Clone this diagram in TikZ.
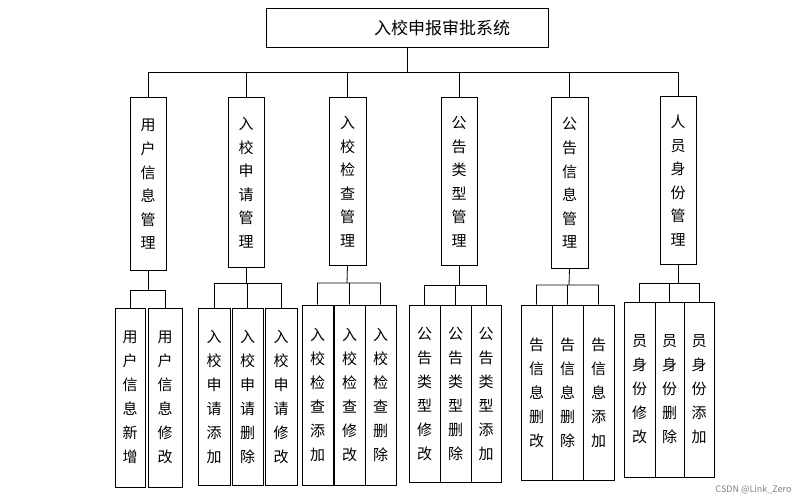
\documentclass[tikz,border=0pt]{standalone}
\usepackage{fontspec}
\newfontfamily\cjk{Noto Sans CJK SC}
\begin{document}
\begin{tikzpicture}[x=1pt,y=-1pt,
  bx/.style={draw,line width=0.8pt,inner sep=0pt,align=center,font=\cjk\fontsize{15}{23.6}\selectfont},
  lf/.style={bx,font=\cjk\fontsize{15}{24}\selectfont},
  ln/.style={line width=0.8pt}]
\useasboundingbox (0,0) rectangle (799,501);
\newcommand\bxat[7]{\node[#1,minimum width={(#4-#3)*1pt},minimum height={(#6-#5)*1pt}] (#2) at ({(#3+#4)/2},{(#5+#6)/2}) {#7};}
\node[draw,line width=0.8pt,minimum width=282pt,minimum height=39pt,font=\cjk\fontsize{17}{18}\selectfont] (top) at (407,27.5) {\hspace{70pt}入校申报审批系统};
\bxat{bx}{a}{130}{166}{97}{270}{\\[-10pt]用\\户\\信\\息\\管\\理}
\bxat{bx}{b}{228}{264}{97}{267}{\\[-10pt]入\\校\\申\\请\\管\\理}
\bxat{bx}{c}{329}{366}{97}{265}{\\[-10pt]入\\校\\检\\查\\管\\理}
\bxat{bx}{d}{441}{477}{97}{265}{\\[-10pt]公\\告\\类\\型\\管\\理}
\bxat{bx}{e}{551}{588}{97}{268}{\\[-10pt]公\\告\\信\\息\\管\\理}
\bxat{bx}{f}{660}{696}{96}{264}{\\[-10pt]人\\员\\身\\份\\管\\理}
\coordinate (bus) at (407,72);
\draw[ln] (top.south)--(bus);
\foreach \n in {a,b,c,d,e,f} \draw[ln] (\n.north) |- (bus);
% leaves
\bxat{lf}{a1}{115}{145}{308}{487}{用\\户\\信\\息\\新\\增}
\bxat{lf}{a2}{148}{182}{308}{487}{用\\户\\信\\息\\修\\改}
\bxat{lf}{b1}{198}{230}{308}{485}{入\\校\\申\\请\\添\\加}
\bxat{lf}{b2}{232}{263}{308}{485}{入\\校\\申\\请\\删\\除}
\bxat{lf}{b3}{265}{297}{308}{485}{入\\校\\申\\请\\修\\改}
\bxat{lf}{c1}{302}{333}{305}{485}{入\\校\\检\\查\\添\\加}
\bxat{lf}{c2}{334}{365}{305}{485}{入\\校\\检\\查\\修\\改}
\bxat{lf}{c3}{365}{396}{305}{485}{入\\校\\检\\查\\删\\除}
\bxat{lf}{d1}{409}{440}{305}{482}{公\\告\\类\\型\\修\\改}
\bxat{lf}{d2}{440}{471}{305}{482}{公\\告\\类\\型\\删\\除}
\bxat{lf}{d3}{471}{501}{305}{482}{公\\告\\类\\型\\添\\加}
\bxat{lf}{e1}{521}{552}{305}{480}{告\\信\\息\\删\\改}
\bxat{lf}{e2}{552}{583}{305}{480}{告\\信\\息\\删\\除}
\bxat{lf}{e3}{583}{614}{305}{480}{告\\信\\息\\添\\加}
\bxat{lf}{f1}{624}{655}{302}{477}{员\\身\\份\\修\\改}
\bxat{lf}{f2}{655}{684}{302}{477}{员\\身\\份\\删\\除}
\bxat{lf}{f3}{684}{714}{302}{477}{员\\身\\份\\添\\加}
\coordinate (ga) at (148,290);
\coordinate (gb) at (246,283);
\coordinate (gc) at (347,283);
\coordinate (gd) at (459,285);
\coordinate (ge) at (569,285);
\coordinate (gf) at (678,283);
\draw[ln] (a.south)--(ga) (a1.north)|-(ga) (a2.north)|-(ga);
\draw[ln] (b.south)--(gb) (b1.north)|-(gb) (b2.north)|-(gb) (b3.north)|-(gb);
\draw[ln] (c.south)--(gc) (c1.north)|-(gc) (c2.north)|-(gc) (c3.north)|-(gc);
\draw[ln] (d.south)--(gd) (d1.north)|-(gd) (d2.north)|-(gd) (d3.north)|-(gd);
\draw[ln] (e.south)--(ge) (e1.north)|-(ge) (e2.north)|-(ge) (e3.north)|-(ge);
\draw[ln] (f.south)--(gf) (f1.north)|-(gf) (f2.north)|-(gf) (f3.north)|-(gf);
\node[text=gray,font=\cjk\fontsize{9}{10}\selectfont,anchor=east] (wm) at (795,490) {CSDN @Link\_Zero};
\end{tikzpicture}
\end{document}
